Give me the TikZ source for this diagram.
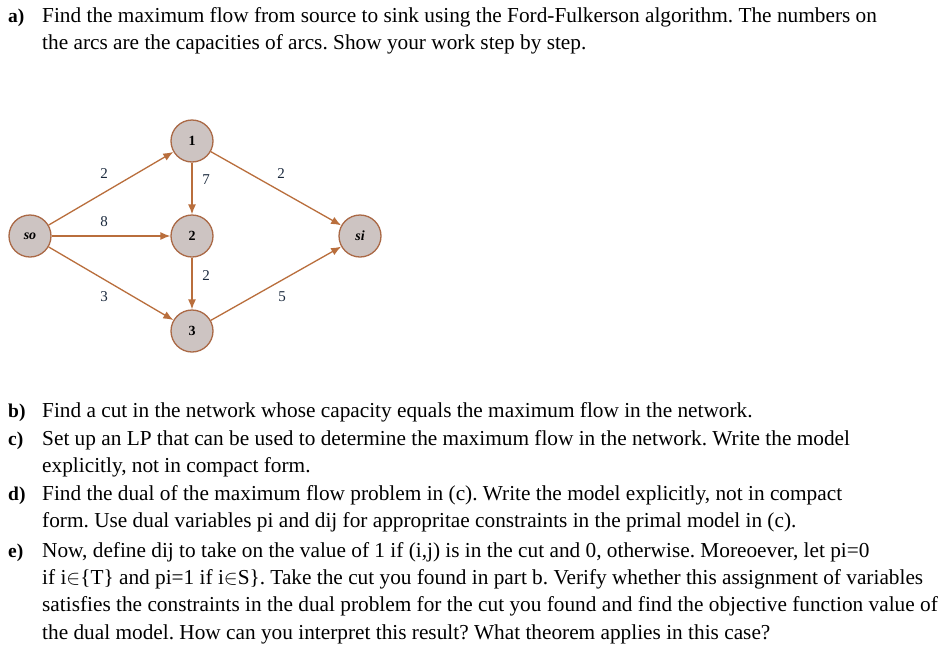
\documentclass[tikz,border=0pt]{standalone}
\usepackage{fontspec}
\setmainfont{Liberation Serif}
\usetikzlibrary{arrows.meta}
\definecolor{edgec}{RGB}{185,110,60}
\definecolor{nodefill}{RGB}{205,196,194}
\definecolor{nodeb}{RGB}{170,105,70}
\definecolor{labc}{RGB}{25,40,60}
\frenchspacing
\begin{document}
\begin{tikzpicture}[x=1pt,y=-1pt,
  vert/.style={circle,draw=nodeb,fill=nodefill,line width=1.3pt,minimum size=42pt,inner sep=0pt,font=\fontsize{14}{14}\selectfont\bfseries},
  arc/.style={draw=edgec,line width=1.3pt,-{Latex[length=10pt,width=8pt]}},
  capl/.style={text=labc,font=\fontsize{15}{15}\selectfont},
  tl/.style={anchor=base west,inner sep=0pt,font=\fontsize{21.3}{24}\selectfont},
  lab/.style={anchor=base west,inner sep=0pt,font=\fontsize{19.5}{24}\selectfont\bfseries}]
\useasboundingbox (0,0) rectangle (943,659);
\fill[white] (0,0) rectangle (943,659);
% text
\node[lab] (la) at (8,22) {a)};
\node[tl] (t1) at (42,22) {Find the maximum flow from source to sink using the Ford-Fulkerson algorithm. The numbers on};
\node[tl] (t2) at (42,49) {the arcs are the capacities of arcs. Show your work step by step.};
\node[lab] (lb) at (8,417) {b)};
\node[tl] (t3) at (42,417) {Find a cut in the network whose capacity equals the maximum flow in the network.};
\node[lab] (lc) at (8,445) {c)};
\node[tl] (t4) at (42,445) {Set up an LP that can be used to determine the maximum flow in the network. Write the model};
\node[tl] (t5) at (42,472) {explicitly, not in compact form.};
\node[lab] (ld) at (8,500) {d)};
\node[tl] (t6) at (42,500) {Find the dual of the maximum flow problem in (c). Write the model explicitly, not in compact};
\node[tl] (t7) at (42,527) {form. Use dual variables pi and dij for appropritae constraints in the primal model in (c).};
\node[lab] (le) at (8,557) {e)};
\node[tl] (t8) at (42,557) {Now, define dij to take on the value of 1 if (i,j) is in the cut and 0, otherwise. Moreoever, let pi=0};
\node[tl] (t9) at (42,584) {if i$\in$\{T\} and pi=1 if i$\in$S\}. Take the cut you found in part b. Verify whether this assignment of variables};
\node[tl] (t10) at (42,611) {satisfies the constraints in the dual problem for the cut you found and find the objective function value of};
\node[tl] (t11) at (42,639) {the dual model. How can you interpret this result? What theorem applies in this case?};
% graph
\node[vert] (so) at (30,236) {\itshape so};
\node[vert] (n1) at (192,141) {1};
\node[vert] (n2) at (192,236) {2};
\node[vert] (n3) at (192,331) {3};
\node[vert] (si) at (360,236) {\itshape si};
\draw[arc] (so) -- (n1);
\draw[arc] (so) -- (n2);
\draw[arc] (so) -- (n3);
\draw[arc] (n1) -- (n2);
\draw[arc] (n2) -- (n3);
\draw[arc] (n1) -- (si);
\draw[arc] (n3) -- (si);
\node[capl] (c1) at (104,174) {2};
\node[capl] (c2) at (104,222) {8};
\node[capl] (c3) at (104,297) {3};
\node[capl] (c4) at (206,180) {7};
\node[capl] (c5) at (206,276) {2};
\node[capl] (c6) at (281,174) {2};
\node[capl] (c7) at (282,297) {5};
\end{tikzpicture}
\end{document}
